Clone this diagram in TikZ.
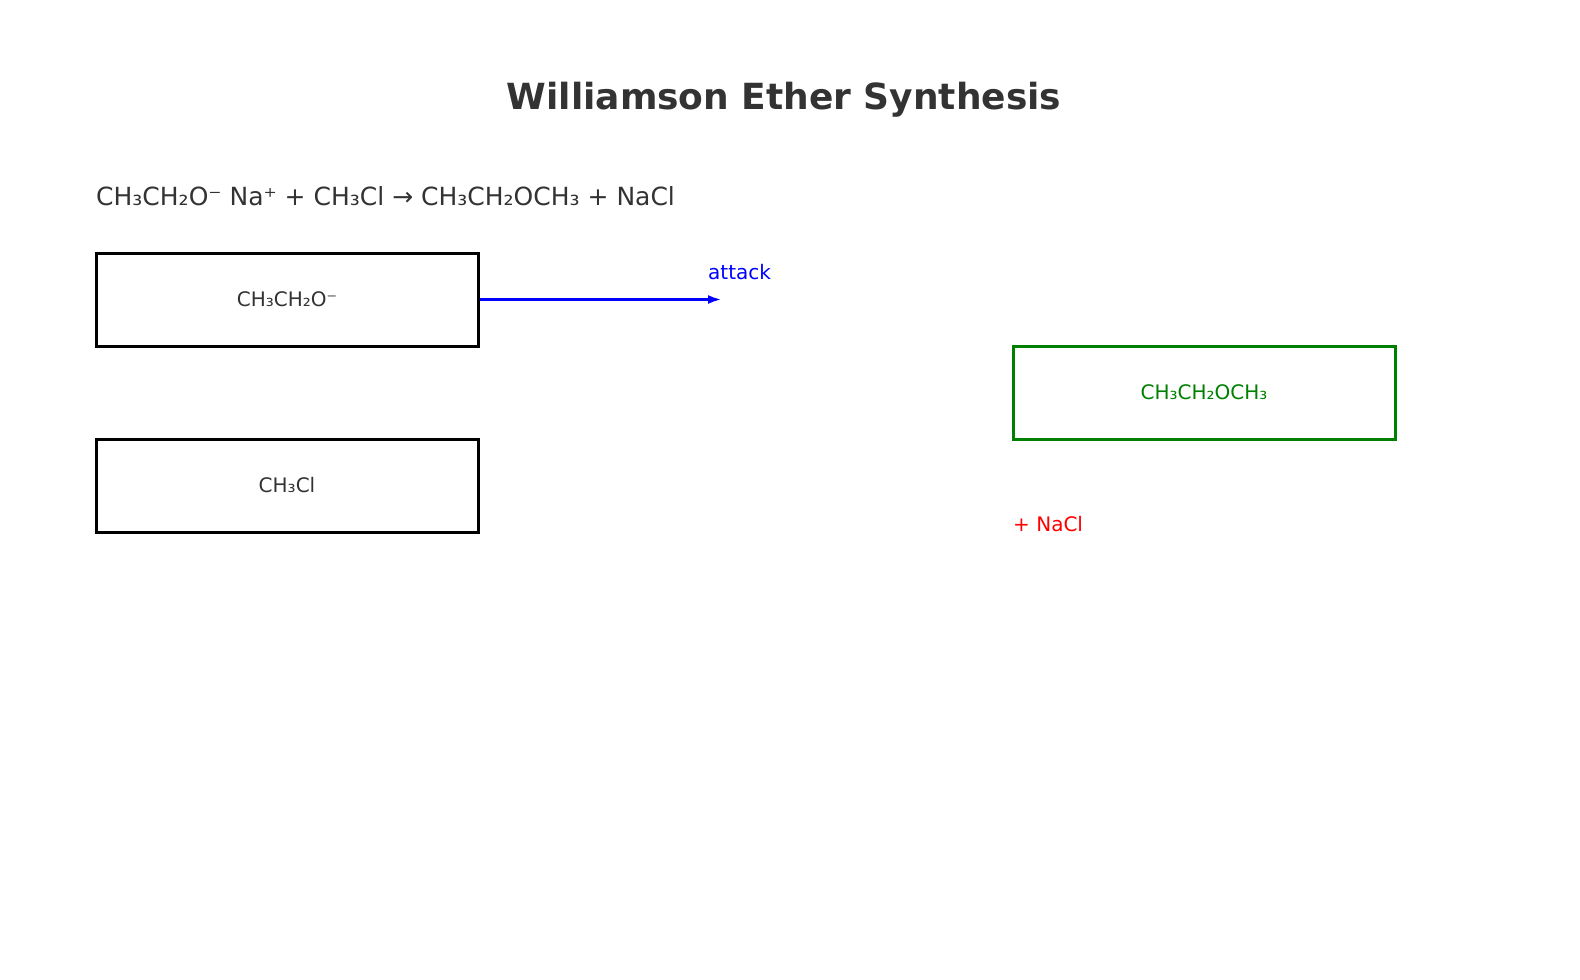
\documentclass[tikz,border=0pt]{standalone}
\usepackage{fontspec}
\setmainfont{DejaVu Sans}
\usetikzlibrary{arrows.meta}
\definecolor{txt}{HTML}{333333}
\definecolor{grn}{RGB}{0,128,0}
\begin{document}
\begin{tikzpicture}[x=1pt,y=-1pt,
  box/.style={draw, line width=3pt, minimum width=382pt, minimum height=93pt, inner sep=0pt, font=\fontsize{20}{24}\selectfont},
  lbl/.style={anchor=west, inner sep=0pt, font=\fontsize{20}{24}\selectfont}]
\useasboundingbox (0,0) rectangle (1580,980);
\node[font=\bfseries\fontsize{36}{42}\selectfont, text=txt] (title) at (784,100) {Williamson Ether Synthesis};
\node[anchor=west, inner sep=0pt, text=txt, font=\fontsize{25}{30}\selectfont] (eq) at (96,196) {CH₃CH₂O⁻ Na⁺ + CH₃Cl → CH₃CH₂OCH₃ + NaCl};
\node[box, text=txt] (a) at (287,299.5) {CH₃CH₂O⁻};
\node[box, text=txt] (b) at (287,485.5) {CH₃Cl};
\node[box, draw=grn, text=grn] (p) at (1204,392.5) {CH₃CH₂OCH₃};
\coordinate (t) at (722,299.5);
\draw[blue, line width=3pt, -{Latex[length=14pt,width=9pt]}] (a.east) -- (t);
\node[lbl, text=blue] (att) at (708,272) {attack};
\node[lbl, text=red] (nacl) at (1013,524) {+ NaCl};
\end{tikzpicture}
\end{document}
